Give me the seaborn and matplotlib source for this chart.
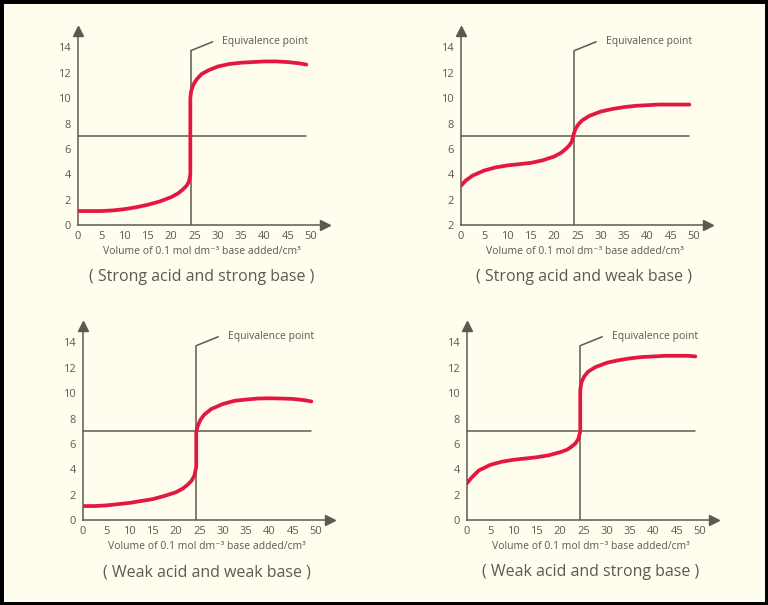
import numpy as np
import pandas as pd
import matplotlib
matplotlib.use("Agg")
import matplotlib.pyplot as plt
import seaborn as sns
from matplotlib.patches import Rectangle

# ------------------------------------------------------------
# Data (pH vs volume of base added)
# ------------------------------------------------------------
sasb_x = [0, 2.5, 5, 7.5, 10, 12.5, 15, 17.5, 20, 21.5, 22.5, 23.3, 23.8, 24.1, 24.1,
          24.3, 24.8, 25.5, 26.5, 28, 30, 32.5, 35, 37.5, 40, 42.5, 45, 47.5, 49]
sasb_y = [1.1, 1.1, 1.1, 1.15, 1.25, 1.4, 1.6, 1.85, 2.2, 2.5, 2.8, 3.1, 3.4, 4.0, 10.0,
          10.6, 11.1, 11.5, 11.9, 12.2, 12.5, 12.7, 12.8, 12.85, 12.9, 12.9, 12.85, 12.75, 12.65]

sawb_x = [0, 1, 2.5, 5, 7.5, 10, 12.5, 15, 17.5, 20, 21.5, 22.5, 23.3, 23.8, 24.2,
          24.6, 25.2, 26, 27.5, 30, 32.5, 35, 37.5, 40, 42.5, 45, 47.5, 49]
sawb_y = [3.1, 3.5, 3.9, 4.3, 4.55, 4.7, 4.8, 4.9, 5.1, 5.4, 5.7, 6.0, 6.3, 6.6, 7.2,
          7.6, 7.95, 8.25, 8.6, 8.95, 9.15, 9.3, 9.4, 9.45, 9.5, 9.5, 9.5, 9.5]

wawb_x = [0, 2.5, 5, 7.5, 10, 12.5, 15, 17.5, 20, 21.5, 22.5, 23.3, 23.9, 24.3, 24.3,
          24.6, 25.2, 26, 27.5, 30, 32.5, 35, 37.5, 40, 42.5, 45, 47.5, 49]
wawb_y = [1.1, 1.1, 1.15, 1.25, 1.35, 1.5, 1.65, 1.9, 2.2, 2.5, 2.8, 3.1, 3.5, 4.2, 6.9,
          7.4, 7.9, 8.3, 8.75, 9.15, 9.4, 9.5, 9.58, 9.6, 9.58, 9.55, 9.45, 9.35]

wasb_x = [0, 1, 2.5, 5, 7.5, 10, 12.5, 15, 17.5, 20, 21.5, 22.5, 23.3, 23.9, 24.3, 24.3,
          24.6, 25.2, 26, 27.5, 30, 32.5, 35, 37.5, 40, 42.5, 45, 47.5, 49]
wasb_y = [2.9, 3.35, 3.9, 4.35, 4.6, 4.75, 4.85, 4.95, 5.1, 5.35, 5.55, 5.8, 6.05, 6.4, 7.0, 10.3,
          10.9, 11.35, 11.7, 12.05, 12.4, 12.6, 12.75, 12.85, 12.9, 12.95, 12.95, 12.95, 12.9]

titles = ["( Strong acid and strong base )", "( Strong acid and weak base )",
          "( Weak acid and weak base )", "( Weak acid and strong base )"]
x_ticks = [0, 5, 10, 15, 20, 25, 30, 35, 40, 45, 50]
y_ticks = [0, 2, 4, 6, 8, 10, 12, 14]
y_labels_normal = ["0", "2", "4", "6", "8", "10", "12", "14"]
y_labels_odd = ["2", "2", "4", "6", "8", "10", "12", "14"]   # as printed in panel 2
equiv_x = [24.2, 24.3, 24.3, 24.3]
neutral_ph = 7
xlabel = "Volume of 0.1 mol dm⁻³ base added/cm³"

# ------------------------------------------------------------
# Styling
# ------------------------------------------------------------
sns.set_style("white")
plt.rcParams["font.family"] = ["Open Sans", "DejaVu Sans"]

bg = "#FFFDEE"
ink = "#5F5850"
red = "#E5173F"

fig = plt.figure(figsize=(7.68, 6.05), dpi=100, facecolor=bg)
fig.patches.append(Rectangle((0, 0), 1, 1, transform=fig.transFigure,
                             fill=False, edgecolor="black", linewidth=5, zorder=10))

W, H = 768, 605
# (left px of y-axis, px of x-axis) for each panel
origins = [(78, 225), (461, 225), (83, 520), (467, 520)]
ax_w, ax_h = 247, 194

curves = [(sasb_x, sasb_y), (sawb_x, sawb_y), (wawb_x, wawb_y), (wasb_x, wasb_y)]

for i, (ox, oy) in enumerate(origins):
    ax = fig.add_axes([ox / W, 1 - oy / H, ax_w / W, ax_h / H])
    ax.set_facecolor("none")
    xs, ys = curves[i]
    df = pd.DataFrame({"vol": xs, "pH": ys})

    # pH 7 line and equivalence line
    ax.plot([0, 49], [neutral_ph, neutral_ph], color=ink, lw=1.1, zorder=1)
    ex = equiv_x[i]
    ax.plot([ex, ex], [0, 13.75], color=ink, lw=1.1, zorder=1)
    ax.plot([ex, ex + 4.7], [13.75, 14.45], color=ink, lw=1.1, zorder=1)
    ax.text(ex + 6.8, 14.45, "Equivalence point", color=ink, fontsize=7.5,
            va="center", ha="left")

    sns.lineplot(data=df, x="vol", y="pH", sort=False, estimator=None,
                 color=red, linewidth=2.7, ax=ax, zorder=3)

    ax.set_xlim(0, 53)
    ax.set_ylim(0, 15.3)
    ax.set_xticks(x_ticks)
    ax.set_yticks(y_ticks)
    ax.set_xticklabels([str(t) for t in x_ticks])
    ax.set_yticklabels(y_labels_odd if i == 1 else y_labels_normal)
    ax.tick_params(direction="in", length=5, width=1, color=ink, labelcolor=ink,
                   labelsize=8)
    ax.tick_params(axis="x", pad=4)
    ax.tick_params(axis="y", pad=5)

    for s in ["top", "right"]:
        ax.spines[s].set_visible(False)
    for s in ["left", "bottom"]:
        ax.spines[s].set_color(ink)
        ax.spines[s].set_linewidth(1.1)

    # arrow heads at axis ends
    ax.plot(1, 0, ">", color=ink, markersize=7, transform=ax.transAxes, clip_on=False)
    ax.plot(0, 1, "^", color=ink, markersize=7, transform=ax.transAxes, clip_on=False)

    ax.set_xlabel(xlabel, color=ink, fontsize=7.5, labelpad=3)
    ax.set_ylabel("")
    ax.text(0.5, -0.27, titles[i], transform=ax.transAxes, ha="center", va="center",
            color=ink, fontsize=11.5)

plt.savefig("out.png", dpi=100, facecolor=bg)
